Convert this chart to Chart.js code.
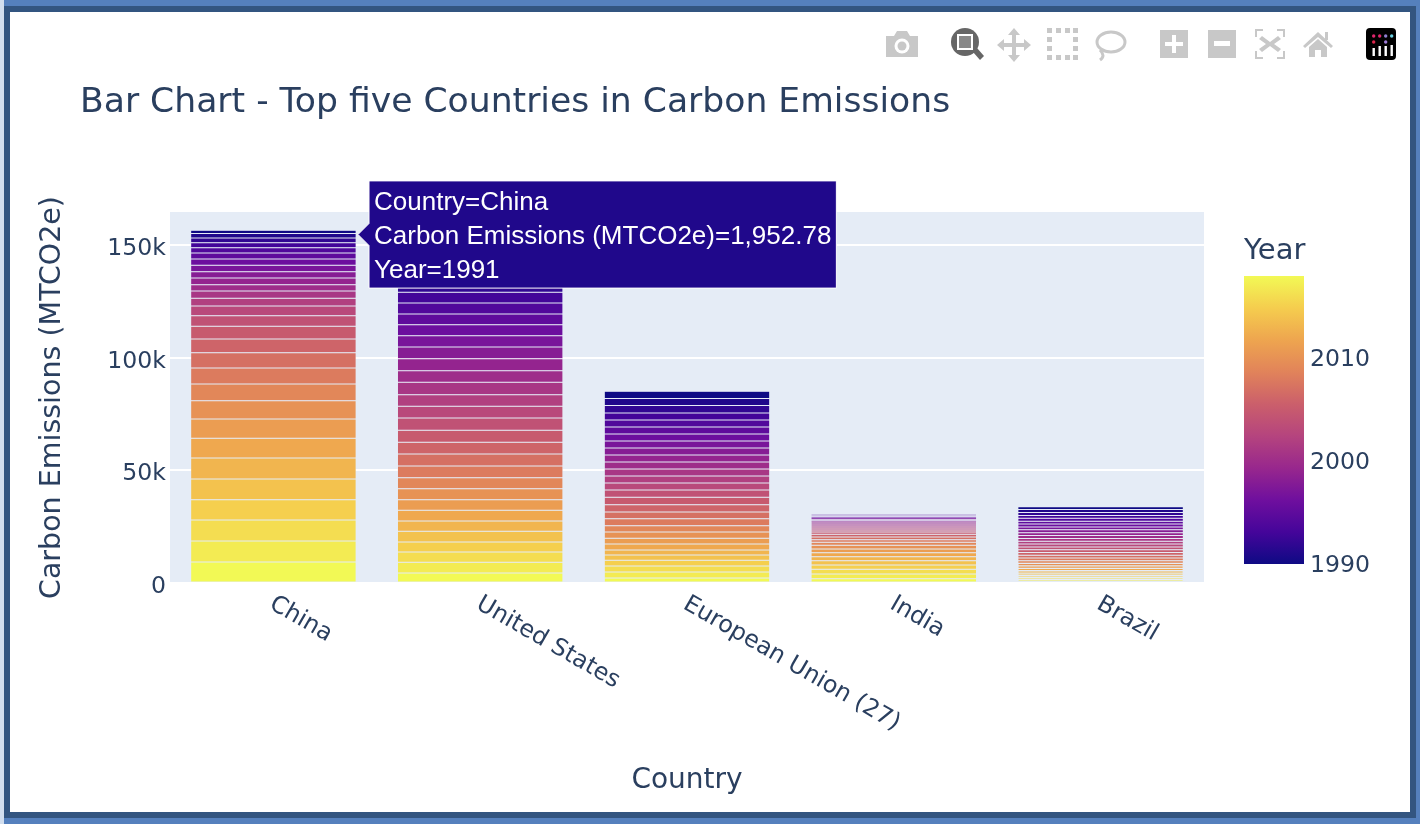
<!DOCTYPE html>
<html><head><meta charset="utf-8">
<script src="https://cdn.jsdelivr.net/npm/chart.js@4"></script>
<style>
html,body{margin:0;padding:0;width:1420px;height:824px;overflow:hidden;background:#5580bd}
#strip{position:absolute;left:0;top:0;width:4px;height:824px;background:#d2deee}
#frame{position:absolute;left:4px;top:6px;width:1412px;height:812px;background:#335580}
#paper{position:absolute;left:10px;top:12px;width:1400px;height:800px;background:#fff}
#main{position:absolute;left:0;top:0}
#bar{position:absolute;left:1244px;top:226px}
#mode{position:absolute;left:0;top:0}
</style></head><body>
<div id="strip"></div><div id="frame"></div><div id="paper"></div>
<canvas id="main" width="1420" height="824"></canvas>
<canvas id="bar" width="176" height="360"></canvas>
<svg id="mode" width="1420" height="70" viewBox="0 0 1420 70">
 <g fill="#c8c8c8">
  <path d="M886 36h8l3-5h10l3 5h8v21h-32z"/><circle cx="902" cy="46" r="7.5" fill="#fff"/><circle cx="902" cy="46" r="4.5"/>
  <circle cx="965" cy="42" r="14" fill="#666"/><rect x="958" y="35" width="14" height="14" fill="#888" stroke="#fff" stroke-width="2"/><path d="M973 52l4-4 7 8-4 4z" fill="#666"/>
  <path d="M1014 28l6 7h-4v8h8v-4l7 6-7 6v-4h-8v8h4l-6 7-6-7h4v-8h-8v4l-7-6 7-6v4h8v-8h-4z"/>
  <path d="M1047 28h5v5h-5zM1056 28h5v5h-5zM1065 28h5v5h-5zM1073 28h5v5h-5zM1047 37h5v5h-5zM1073 37h5v5h-5zM1047 46h5v5h-5zM1073 46h5v5h-5zM1047 55h5v5h-5zM1056 55h5v5h-5zM1065 55h5v5h-5zM1073 55h5v5h-5z"/>
  <ellipse cx="1111" cy="42" rx="14" ry="10" fill="none" stroke="#c8c8c8" stroke-width="3"/><path d="M1100 50c4 4 4 7 0 10" fill="none" stroke="#c8c8c8" stroke-width="3"/>
  <path d="M1160 30h28v28h-28z"/><path d="M1172 37h4v7h7v4h-7v7h-4v-7h-7v-4h7z" fill="#fff" transform="translate(0,-2)"/>
  <path d="M1208 30h28v28h-28z"/><path d="M1214 41h16v5h-16z" fill="#fff"/>
  <path d="M1255 29h8v2h-6v6h-2zM1285 29v8h-2v-6h-6v-2zM1255 59v-8h2v6h6v2zM1285 59h-8v-2h6v-6h2z"/><path d="M1262 36l8 6 8-6 3 3-7 5 7 5-3 3-8-6-8 6-3-3 7-5-7-5z"/>
  <path d="M1318 32l15 14-2 2-13-11-13 11-2-2z"/><path d="M1309 47l9-8 9 8v10h-6v-7h-6v7h-6z"/><rect x="1325" y="32" width="3" height="8"/>
 </g>
 <rect x="1366" y="28" width="30" height="32" rx="4" fill="#000"/>
 <g fill="#fff"><rect x="1372.5" y="48" width="2.4" height="8"/><rect x="1378.5" y="46" width="2.4" height="10"/><rect x="1384.5" y="46" width="2.4" height="10"/><rect x="1390.5" y="45" width="2.4" height="11"/></g>
 <g><circle cx="1373.7" cy="36" r="1.7" fill="#e0266c"/><circle cx="1379.7" cy="36" r="1.7" fill="#e0266c"/><circle cx="1385.7" cy="36" r="1.7" fill="#8f80d0"/><circle cx="1391.7" cy="36" r="1.7" fill="#6ad0e0"/><circle cx="1373.7" cy="42" r="1.7" fill="#e0264c"/><circle cx="1385.7" cy="42" r="1.7" fill="#9c7bd6"/></g>
</svg>
<script>
const countries = ["China","United States","European Union (27)","India","Brazil"];
const years = [1990,1991,1992,1993,1994,1995,1996,1997,1998,1999,2000,2001,2002,2003,2004,2005,2006,2007,2008,2009,2010,2011,2012,2013,2014,2015,2016,2017,2018];
const china = [1480,1952.78,2070,2220,2370,2660,2810,2810,2810,2960,2810,3250,3400,4290,4730,5620,6060,6800,7100,7400,8130,8580,8730,9320,9170,9020,9320,9320,9320];
const unitedStates = [4600,4550,4650,4730,4880,4730,4880,5030,5180,5320,5180,5470,5180,5180,5470,5320,5180,5320,5180,4880,4880,4730,4730,4580,4730,4440,4580,4730,4440];
const europeanUnion = [3250,3110,3250,3110,3110,3110,3110,3110,3110,3110,3110,3110,3110,3110,3250,3250,3250,2960,3110,2810,2810,2510,2660,2220,2370,2510,2660,2660,2220];
const india = [440,440,440,450,460,580,590,600,590,590,880,890,900,880,890,1030,1180,1190,1180,1330,1620,1640,1770,1780,1920,1930,2070,2080,1920];
const brazil = [1280,1300,1260,1280,1290,1270,1300,1260,1250,1280,1290,1270,1250,1260,1280,1240,1220,1200,1180,1160,1140,1100,1060,1020,980,900,860,840,820];
const seriesByCountry = [china,unitedStates,europeanUnion,india,brazil];
const yTicks = [0,50000,100000,150000];
const yearTicks = [1990,2000,2010];

const INK="#2a3f5f", FONT='"DejaVu Sans", Verdana, sans-serif';
const plasma=["#0e0a84","#45059a","#6f0f9e","#98278d","#b5447e","#cb5f6b","#e1835a","#eea54f","#f5cd4e","#f2f955"];
function rgb(h){return [1,3,5].map(i=>parseInt(h.slice(i,i+2),16));}
function yearColor(y){
  const t=(y-years[0])/(years[years.length-1]-years[0])*(plasma.length-1);
  const i=Math.min(Math.floor(t),plasma.length-2),f=t-i,a=rgb(plasma[i]),b=rgb(plasma[i+1]);
  return `rgb(${a.map((v,k)=>Math.round(v+(b[k]-v)*f)).join(",")})`;
}
const order=years.map((_,i)=>i).reverse();
const datasets=order.map(i=>({
  label:String(years[i]),
  data:seriesByCountry.map(s=>s[i]),
  backgroundColor:yearColor(years[i]),
  borderColor:"#E5ECF6",
  borderWidth:ctx=>ctx.raw<700?0.42:(ctx.dataIndex===4&&ctx.raw<1150?0.7:0.5),
  borderSkipped:false,
  categoryPercentage:1,
  barPercentage:0.8
}));
function nudge(scale,dy,dx){
  scale.getLabelItems().forEach(it=>{if(!it.nudged){it.options.translation[1]+=dy;it.options.translation[0]+=(dx||0);it.nudged=true;}});
}
const plotBg={id:"plotBg",
  beforeLayout(c){c.scales.x._getXAxisLabelAlignment=()=>"left";},
  beforeDraw(c){const a=c.chartArea,x=c.ctx;x.save();x.fillStyle="#E5ECF6";x.fillRect(a.left,a.top,a.right-a.left,a.bottom-a.top);x.restore();nudge(c.scales.y,4);nudge(c.scales.x,-2,-2);},
  afterLayout(c){c.titleBlock.left=80;}};
Chart.Tooltip.positioners.fixed=function(){return {x:358,y:234.5,xAlign:"left",yAlign:"center"};};
const chart=new Chart(document.getElementById("main"),{
  type:"bar",
  data:{labels:countries,datasets},
  plugins:[plotBg],
  options:{
    responsive:false,animation:false,events:[],
    layout:{padding:{right:216}},
    scales:{
      x:{stacked:true,grid:{display:false},border:{display:false},
        afterFit(s){s.height=241;},
        ticks:{color:INK,font:{family:FONT,size:23.8},minRotation:-30,maxRotation:-30,align:"start",autoSkip:false,padding:1},
        title:{display:true,text:"Country",color:INK,font:{family:FONT,size:28},padding:{top:0,bottom:26}}},
      y:{stacked:true,min:0,max:164600,
        grid:{color:"#fff",lineWidth:2,drawTicks:false},border:{display:false},
        afterFit(s){s.width=170;},
        afterBuildTicks(s){s.ticks=yTicks.map(v=>({value:v}));},
        ticks:{color:INK,font:{family:FONT,size:23.6},padding:4,callback:v=>v===0?"0":(v/1000)+"k"},
        title:{display:true,text:"Carbon Emissions (MTCO2e)",color:INK,font:{family:FONT,size:28.5},padding:{top:35,bottom:0}}}
    },
    plugins:{
      legend:{display:false},
      title:{display:true,text:"Bar Chart - Top five Countries in Carbon Emissions",align:"start",color:INK,font:{family:FONT,size:34.6,weight:"normal"},padding:{top:82,bottom:88.5}},
      tooltip:{enabled:true,position:"fixed",displayColors:false,animation:false,
        backgroundColor:yearColor(1991),borderColor:"#fff",borderWidth:1,cornerRadius:0,caretSize:11,caretPadding:0,
        padding:{left:5,right:5,top:6,bottom:2},
        bodyFont:{family:'"Liberation Sans", Arial, sans-serif',size:26},bodyColor:"#fff",bodySpacing:2.8,
        callbacks:{title:()=>[],label(ctx){return ["Country="+ctx.label,"Carbon Emissions (MTCO2e)="+ctx.parsed.y.toLocaleString("en-US",{minimumFractionDigits:2,maximumFractionDigits:2}),"Year="+ctx.dataset.label];}}}
    }
  }
});
const idx=datasets.findIndex(d=>d.label==="1991");
chart.tooltip.setActiveElements([{datasetIndex:idx,index:0}],{x:358,y:234});
chart.render();

const barChart=new Chart(document.getElementById("bar"),{
  type:"bar",
  data:{labels:["Year"],datasets:[{label:"Year",data:[[years[0],years[years.length-1]]],categoryPercentage:1,barPercentage:1,borderWidth:0,
    backgroundColor(ctx){const a=ctx.chart.chartArea;if(!a)return plasma[0];const g=ctx.chart.ctx.createLinearGradient(0,a.bottom,0,a.top);plasma.forEach((c,i)=>g.addColorStop(i/(plasma.length-1),c));return g;}}]},
  plugins:[{id:"fixBar",afterLayout(c){c.titleBlock.left=0;},beforeDraw(c){nudge(c.scales.y,2);}}],
  options:{
    responsive:false,animation:false,events:[],layout:{padding:{bottom:22}},
    scales:{
      x:{display:false},
      y:{position:"right",min:years[0],max:years[years.length-1],grid:{display:false,drawTicks:false},border:{display:false},
        afterFit(s){s.width=116;},
        afterBuildTicks(s){s.ticks=yearTicks.map(v=>({value:v}));},
        ticks:{color:INK,font:{family:FONT,size:23.6},padding:6,callback:v=>String(v)}}
    },
    plugins:{legend:{display:false},tooltip:{enabled:false},
      title:{display:true,text:"Year",align:"start",color:INK,font:{family:FONT,size:29,weight:"normal"},padding:{top:8,bottom:7.2}}}
  }
});
</script>
</body></html>
